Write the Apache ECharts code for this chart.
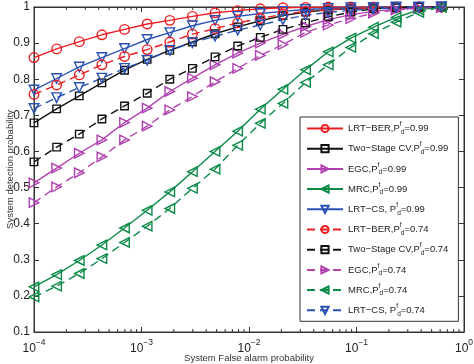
<!DOCTYPE html>
<html><head><meta charset="utf-8">
<script src="https://cdn.jsdelivr.net/npm/echarts@6/dist/echarts.min.js"></script>
<style>html,body{margin:0;padding:0;background:#fff}#c{width:474px;height:364px}</style>
</head><body><div id="c"></div>
<script>
// false alarm probabilities (x positions of the markers)
const xValues = [1.0e-4, 1.624e-4, 2.637e-4, 4.281e-4, 6.952e-4, 1.129e-3, 1.833e-3, 2.976e-3, 4.833e-3, 7.848e-3,
  1.274e-2, 2.069e-2, 3.360e-2, 5.456e-2, 8.859e-2, 0.1438, 0.2336, 0.3793, 0.6158];

const lrtBer99 = [0.860, 0.884, 0.904, 0.923, 0.938, 0.953, 0.963, 0.974, 0.984, 0.990, 0.995, 0.998, 0.999, 1, 1, 1, 1, 1, 1];
const twoStage99 = [0.679, 0.718, 0.754, 0.790, 0.825, 0.855, 0.880, 0.903, 0.926, 0.945, 0.962, 0.976, 0.986, 0.992, 0.996, 0.998, 0.999, 1, 1];
const egc99 = [0.513, 0.554, 0.595, 0.632, 0.680, 0.720, 0.766, 0.803, 0.840, 0.872, 0.900, 0.924, 0.946, 0.965, 0.979, 0.988, 0.994, 0.997, 0.999];
const mrc99 = [0.225, 0.259, 0.298, 0.341, 0.388, 0.437, 0.488, 0.544, 0.600, 0.656, 0.717, 0.772, 0.826, 0.876, 0.914, 0.944, 0.971, 0.992, 1.0];
const lrtCs99 = [0.770, 0.802, 0.834, 0.860, 0.885, 0.910, 0.929, 0.948, 0.963, 0.974, 0.982, 0.988, 0.993, 0.996, 0.998, 0.999, 1, 1, 1];
const lrtBer74 = [0.758, 0.784, 0.812, 0.840, 0.863, 0.882, 0.903, 0.925, 0.940, 0.956, 0.968, 0.980, 0.988, 0.993, 0.996, 0.998, 0.999, 1, 1];
const twoStage74 = [0.571, 0.612, 0.648, 0.690, 0.726, 0.761, 0.800, 0.830, 0.862, 0.892, 0.916, 0.938, 0.956, 0.973, 0.986, 0.995, 0.998, 1, 1];
const egc74 = [0.458, 0.502, 0.541, 0.585, 0.632, 0.670, 0.715, 0.752, 0.793, 0.830, 0.866, 0.896, 0.930, 0.950, 0.968, 0.983, 0.992, 0.997, 1];
const mrc74 = [0.197, 0.227, 0.262, 0.303, 0.348, 0.393, 0.442, 0.498, 0.551, 0.617, 0.678, 0.733, 0.791, 0.840, 0.888, 0.926, 0.958, 0.985, 1.0];
const lrtCs74 = [0.719, 0.749, 0.777, 0.803, 0.830, 0.853, 0.880, 0.901, 0.919, 0.936, 0.950, 0.965, 0.977, 0.985, 0.991, 0.995, 0.998, 0.999, 1];

const schemeLabels = ['LRT\u2212BER,P', 'Two\u2212Stage CV,P', 'EGC,P', 'MRC,P', 'LRT\u2212CS, P'];
const pdValues = ['0.99', '0.74'];
const minorTicks = [2e-4,3e-4,4e-4,5e-4,6e-4,7e-4,8e-4,9e-4, 2e-3,3e-3,4e-3,5e-3,6e-3,7e-3,8e-3,9e-3,
  2e-2,3e-2,4e-2,5e-2,6e-2,7e-2,8e-2,9e-2, 0.2,0.3,0.4,0.5,0.6,0.7,0.8,0.9];

const FONT = '"Liberation Sans", Arial, sans-serif';
const colors = ['#ee1d23', '#111111', '#b042b0', '#0b8a48', '#2a52b4'];
const symbols = ['circle', 'rect', 'path://M0,0L10,5L0,10Z', 'path://M10,0L0,5L10,10Z', 'path://M0,0L10,0L5,10Z'];
const symSizes = [9.5, 7.5, 9.5, 9.5, 9.5];
const dataSets = [[lrtBer99, twoStage99, egc99, mrc99, lrtCs99], [lrtBer74, twoStage74, egc74, mrc74, lrtCs74]];

const series = [];
const legendNames = [];
for (let g = 0; g < 2; g++) {
  for (let i = 0; i < 5; i++) {
    const name = schemeLabels[i] + '|' + pdValues[g];
    legendNames.push(name);
    series.push({
      name, type: 'line',
      data: xValues.map((x, k) => [x, dataSets[g][i][k]]),
      symbol: symbols[i], symbolSize: symSizes[i], showAllSymbol: true,
      lineStyle: { color: colors[i], width: 1.4, type: g === 0 ? 'solid' : [8, 5] },
      itemStyle: { color: 'rgba(255,255,255,0)', borderColor: colors[i], borderWidth: 1.4 },
      emphasis: { disabled: true }, animation: false, z: 3
    });
  }
}
series.push({
  type: 'custom', silent: true, z: 2,
  data: minorTicks.map(v => [v, 0.1]),
  encode: { x: 0, y: 1 },
  renderItem: (params, api) => {
    const v = api.value(0);
    const b = api.coord([v, 0.1]);
    const t = api.coord([v, 1]);
    return { type: 'group', children: [
      { type: 'line', shape: { x1: b[0], y1: b[1], x2: b[0], y2: b[1] - 3 }, style: { stroke: '#333', lineWidth: 1 } },
      { type: 'line', shape: { x1: t[0], y1: t[1], x2: t[0], y2: t[1] + 3 }, style: { stroke: '#333', lineWidth: 1 } }
    ]};
  }
});

const logLabel = v => {
  const e = Math.round(Math.log10(v));
  return '{b|10}{s|' + (e < 0 ? '\u2212' + (-e) : e) + '}';
};
const axisCommon = { lineStyle: { color: '#333', width: 1 } };

const chart = echarts.init(document.getElementById('c'));
chart.setOption({
  animation: false,
  backgroundColor: '#fff',
  grid: { left: 34, right: 10, top: 7, bottom: 32, outerBoundsMode: 'none', containLabel: false,
    show: true, borderColor: '#333', borderWidth: 1, backgroundColor: 'transparent' },
  xAxis: [{
    type: 'log', logBase: 10, min: 1e-4, max: 1,
    axisLine: { show: true, ...axisCommon },
    axisTick: { inside: true, length: 5, lineStyle: { color: '#333' } },
    splitLine: { show: false },
    axisLabel: { formatter: logLabel, margin: 6, color: '#222', fontFamily: FONT,
      rich: { b: { fontSize: 12, fontFamily: FONT, color: '#222', verticalAlign: 'bottom' },
              s: { fontSize: 8.5, fontFamily: FONT, color: '#222', verticalAlign: 'bottom', padding: [0, 0, 8, 0] } } },
    name: 'System False alarm probability', nameLocation: 'middle', nameGap: 21, nameMoveOverlap: false,
    nameTextStyle: { fontSize: 9.5, fontFamily: FONT, color: '#333' }
  }, {
    type: 'log', logBase: 10, min: 1e-4, max: 1, position: 'top',
    axisLine: { show: true, ...axisCommon },
    axisTick: { inside: true, length: 5, lineStyle: { color: '#333' } },
    axisLabel: { show: false }, splitLine: { show: false }
  }],
  yAxis: [{
    type: 'value', min: 0.1, max: 1, interval: 0.1,
    axisLine: { show: true, ...axisCommon },
    axisTick: { show: true, inside: true, length: 5, lineStyle: { color: '#333' } },
    splitLine: { show: false },
    axisLabel: { formatter: v => String(Math.round(v * 10) / 10), fontSize: 12, fontFamily: FONT, color: '#222', margin: 4 },
    name: 'System detection probability', nameLocation: 'middle', nameGap: 18.5, nameMoveOverlap: false,
    nameTextStyle: { fontSize: 9.5, fontFamily: FONT, color: '#333' }
  }, {
    type: 'value', min: 0.1, max: 1, interval: 0.1, position: 'right',
    axisLine: { show: true, ...axisCommon },
    axisTick: { show: true, inside: true, length: 5, lineStyle: { color: '#333' } },
    axisLabel: { show: false }, splitLine: { show: false }
  }],
  legend: {
    data: legendNames, orient: 'vertical', left: 300, top: 117,
    itemWidth: 36, itemHeight: 9, itemGap: 5.7,
    padding: [4, 10, 4, 6], borderColor: '#333', borderWidth: 1, backgroundColor: '#fff',
    selectedMode: false,
    formatter: name => {
      const [lab, pd] = name.split('|');
      return '{m|' + lab + '}{sp|f}{sb|d}{m|=' + pd + '}';
    },
    textStyle: {
      fontFamily: FONT, fontSize: 9.5, color: '#222',
      rich: {
        m: { fontFamily: FONT, fontSize: 9.5, color: '#222' },
        sp: { fontFamily: FONT, fontSize: 6.5, color: '#222', width: 1, padding: [0, 0, 8, 0] },
        sb: { fontFamily: FONT, fontSize: 6.5, color: '#222', padding: [7, 0, 0, 0] }
      }
    }
  },
  series
});
</script></body></html>
